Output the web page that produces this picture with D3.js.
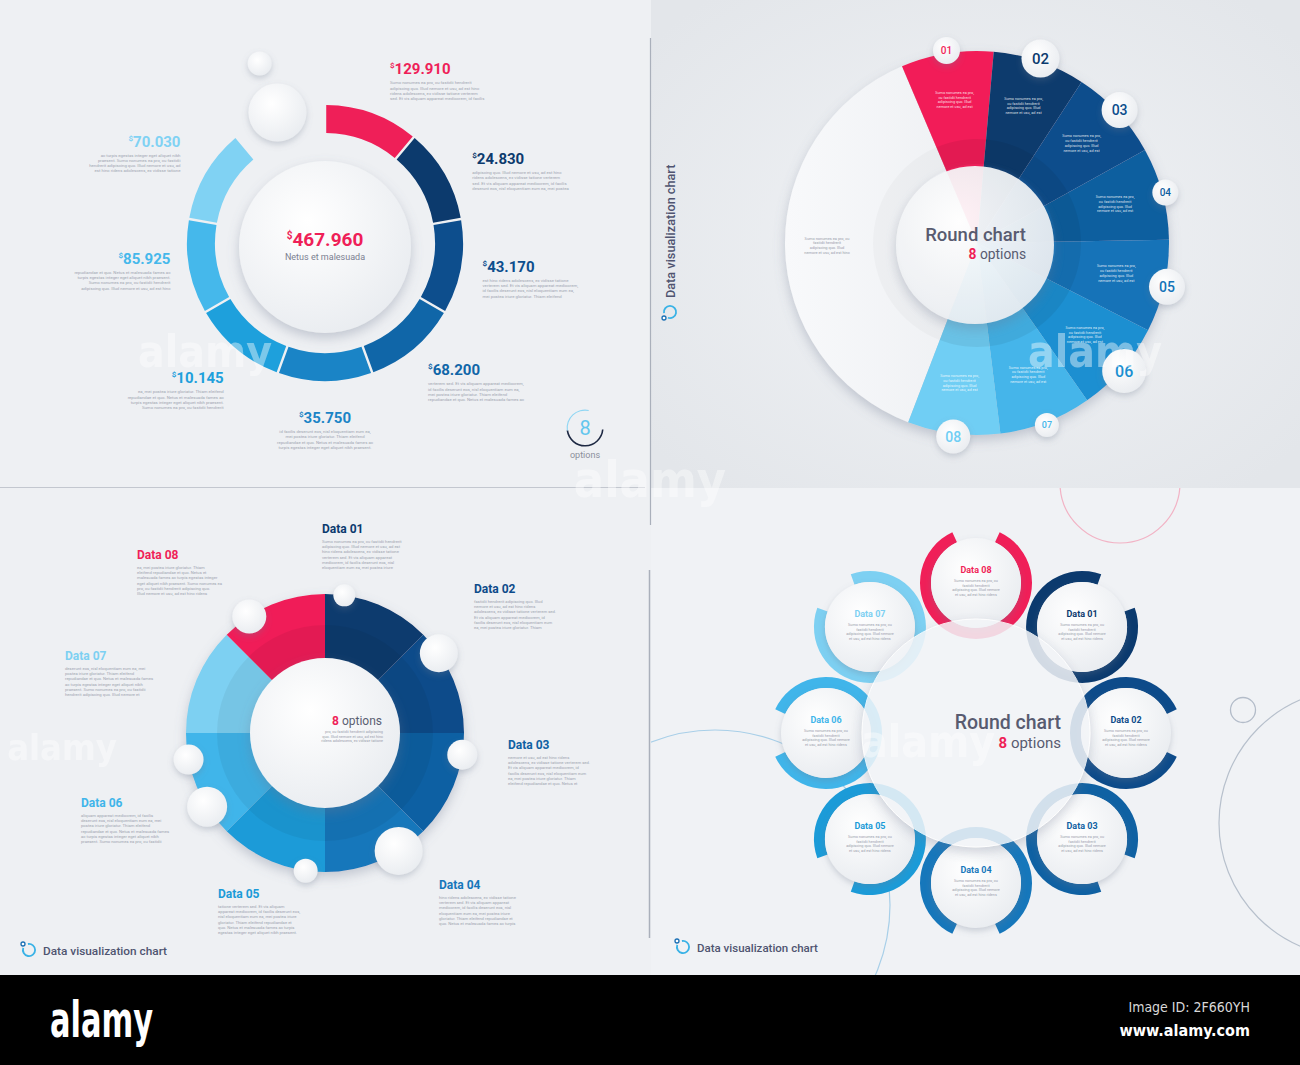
<!DOCTYPE html>
<html>
<head>
<meta charset="utf-8">
<script src="https://d3js.org/d3.v7.min.js"></script>
<style>
  body { margin: 0; background: #eef0f3; font-family: Roboto, 'Noto Sans', sans-serif; }
  svg { display: block; }
  .lorem { font-family: Roboto, sans-serif; }
  .head { font-weight: 700; }
</style>
</head>
<body>
<div id="chart"></div>
<script>
////////////////////////////////////////////////////////////
//////////////////////// Data //////////////////////////////
////////////////////////////////////////////////////////////
var amounts = [129910, 24830, 43170, 68200, 35750, 10145, 85925, 70030];
var amountColors = ["#ef1f58", "#0c3a6d", "#0d4e8d", "#1066a8", "#1a84c6", "#1ea0dc", "#45b8eb", "#80d2f3"];
var optionNumbers = ["01", "02", "03", "04", "05", "06", "07", "08"];
var optionColors = ["#f21f58", "#0b3a6d", "#0c4d8c", "#0f5e9f", "#1373b8", "#1a8fd1", "#44b5ea", "#6fcef4"];
var dataNames = ["Data 01", "Data 02", "Data 03", "Data 04", "Data 05", "Data 06", "Data 07", "Data 08"];
var dataColors = ["#0b3a6e", "#0d4b8a", "#0f61a3", "#1677bb", "#1b9bd8", "#40b5ea", "#7dd0f2", "#f01f58"];
var equalShares = [1, 1, 1, 1, 1, 1, 1, 1];
var optionsCount = 8;
var centerCaption = "Netus et malesuada";
var roundTitle = "Round chart";
var footerTitle = "Data visualization chart";

var lorem = "Sumo nonumes ea pro, cu fastidii hendrerit adipiscing quo. Illud nemore et usu, ad est hinc ridens adolescens, ex vidisse tatione verterem sed. Et vis aliquam appareat mediocrem, id facilis deserunt eos, nisl eloquentiam eum ea, mei postea iriure gloriatur. Thiam eleifend repudiandae et quo. Netus et malesuada fames ac turpis egestas integer eget aliquet nibh praesent.";

////////////////////////////////////////////////////////////
//////////////////////// Set-Up ////////////////////////////
////////////////////////////////////////////////////////////
var W = 1300, H = 1065;
var rad = function(d) { return d * Math.PI / 180; };
var money = d3.formatLocale({decimal: ",", thousands: ".", grouping: [3], currency: ["$", ""]}).format(",d");
var total = d3.sum(amounts);

var svg = d3.select("#chart").append("svg")
    .attr("width", W)
    .attr("height", H);

var defs = svg.append("defs");
function shadow(id, dy, sd, op) {
  defs.append("filter").attr("id", id)
      .attr("x", "-60%").attr("y", "-60%").attr("width", "220%").attr("height", "220%")
    .append("feDropShadow")
      .attr("dx", 0).attr("dy", dy).attr("stdDeviation", sd)
      .attr("flood-color", "#6f7a90").attr("flood-opacity", op);
}
shadow("shadow", 5, 6, 0.35);
shadow("soft", 3, 3, 0.3);

var disc = defs.append("radialGradient").attr("id", "disc").attr("cx", "40%").attr("cy", "35%").attr("r", "70%");
disc.append("stop").attr("offset", "0%").attr("stop-color", "#ffffff");
disc.append("stop").attr("offset", "100%").attr("stop-color", "#e9ecf0");

var bgTR = defs.append("radialGradient").attr("id", "bgTR").attr("cx", "50%").attr("cy", "50%").attr("r", "65%");
bgTR.append("stop").attr("offset", "0%").attr("stop-color", "#f1f3f6");
bgTR.append("stop").attr("offset", "100%").attr("stop-color", "#e3e6ea");

var whiteSeg = defs.append("linearGradient").attr("id", "whiteSeg").attr("x1", "0").attr("x2", "1");
whiteSeg.append("stop").attr("offset", "0%").attr("stop-color", "#f8f9fb");
whiteSeg.append("stop").attr("offset", "100%").attr("stop-color", "#eef0f3");

defs.append("clipPath").attr("id", "clipBR")
  .append("rect").attr("x", 651).attr("y", 488).attr("width", 649).attr("height", 487);

// backgrounds
svg.append("rect").attr("width", W).attr("height", 975).attr("fill", "#eef0f3");
svg.append("rect").attr("x", 651).attr("y", 0).attr("width", 649).attr("height", 488).attr("fill", "url(#bgTR)");
svg.append("rect").attr("x", 651).attr("y", 488).attr("width", 649).attr("height", 487).attr("fill", "#f0f2f5");

svg.append("line").attr("x1", 0).attr("x2", 645).attr("y1", 487.5).attr("y2", 487.5)
    .attr("stroke", "#c3c7cf").attr("stroke-width", 1);
svg.append("line").attr("x1", 650.5).attr("x2", 650.5).attr("y1", 38).attr("y2", 525)
    .attr("stroke", "#aab0bb").attr("stroke-width", 1.2);
svg.append("line").attr("x1", 649.5).attr("x2", 649.5).attr("y1", 570).attr("y2", 938)
    .attr("stroke", "#aab0bb").attr("stroke-width", 1.5);

// lorem helper: greedy wrap of the filler text
function loremLines(n, perLine, seed) {
  var words = lorem.split(" "), lines = [], cur = "", i = seed % words.length;
  while (lines.length < n) {
    var w = words[i % words.length];
    if ((cur + " " + w).length > perLine && cur) { lines.push(cur); cur = w; }
    else cur = cur ? cur + " " + w : w;
    i++;
  }
  return lines;
}
function loremBlock(g, x, y, n, perLine, seed, anchor, size, lh, fill) {
  var t = g.append("text").attr("class", "lorem")
      .attr("x", x).attr("y", y)
      .attr("text-anchor", anchor)
      .attr("font-size", size)
      .attr("fill", fill);
  loremLines(n, perLine, seed).forEach(function(l, i) {
    t.append("tspan").attr("x", x).attr("dy", i ? lh : 0).text(l);
  });
}
function footer(x, y, rotate, size) {
  var g = svg.append("g").attr("transform", "translate(" + x + "," + y + ")" + (rotate ? " rotate(-90)" : ""));
  g.append("path")
      .attr("d", d3.arc()({innerRadius: 5.2, outerRadius: 7, startAngle: rad(-10), endAngle: rad(290)}))
      .attr("transform", "translate(-10,0)")
      .attr("fill", "#39b2e6");
  g.append("circle").attr("cx", -16).attr("cy", -6).attr("r", 2)
      .attr("fill", "#fff").attr("stroke", "#1a6fb4").attr("stroke-width", 1.3);
  g.append("text").attr("x", 4).attr("y", 4.5)
      .attr("font-size", size).attr("font-weight", 500).attr("fill", "#4f5470")
      .text(footerTitle);
}

////////////////////////////////////////////////////////////
/////////////// Panel 1: amount ring ///////////////////////
////////////////////////////////////////////////////////////
(function() {
  var cx = 325, cy = 243, rIn = 110, rOut = 138;
  var labelRadius = [190, 170, 160, 165, 174, 170, 160, 175];
  var labelNudge = [[0, 4], [0, 0], [0, -5], [-3, 0], [0, 0], [8, 4], [3, -13], [7, -15]];
  var g = svg.append("g").attr("transform", "translate(" + cx + "," + cy + ")");

  var pie = d3.pie().sort(null).value(function(d) { return d; })
      .startAngle(0).endAngle(rad(320)).padAngle(0.014);
  var arcs = pie(equalShares);
  var arc = d3.arc().innerRadius(rIn).outerRadius(rOut);

  g.selectAll("path.seg").data(arcs).enter().append("path")
      .attr("class", "seg")
      .attr("d", arc)
      .attr("fill", function(d, i) { return amountColors[i]; });

  // bubbles in the gap
  [[139, 29], [191, 12]].forEach(function(b) {
    g.append("circle")
        .attr("cx", b[0] * Math.sin(rad(340))).attr("cy", -b[0] * Math.cos(rad(340)))
        .attr("r", b[1]).attr("fill", "url(#disc)").attr("filter", "url(#soft)");
  });

  g.append("circle").attr("cx", 0).attr("cy", 4).attr("r", 86)
      .attr("fill", "url(#disc)").attr("filter", "url(#shadow)");

  var c = g.append("text").attr("x", 0).attr("y", 3).attr("text-anchor", "middle")
      .attr("fill", "#ef1f58").attr("font-weight", 700).attr("font-size", 19);
  c.append("tspan").attr("font-size", 10).attr("dy", -7).text("$");
  c.append("tspan").attr("dy", 7).text(money(total));
  g.append("text").attr("x", 0).attr("y", 17).attr("text-anchor", "middle")
      .attr("fill", "#7b8091").attr("font-size", 9).text(centerCaption);

  arcs.forEach(function(d, i) {
    var a = (d.startAngle + d.endAngle) / 2, deg = a * 180 / Math.PI;
    var x = labelRadius[i] * Math.sin(a) + labelNudge[i][0];
    var y = -labelRadius[i] * Math.cos(a) + labelNudge[i][1] + 6;
    var anchor = deg < 170 ? "start" : deg < 190 ? "middle" : "end";
    var t = g.append("text").attr("class", "head").attr("x", x).attr("y", y)
        .attr("text-anchor", anchor).attr("fill", amountColors[i]).attr("font-size", 15);
    t.append("tspan").attr("font-size", 8).attr("dy", -6).text("$");
    t.append("tspan").attr("dy", 6).text(money(amounts[i]));
    loremBlock(g, x, y + 10, 4, 50, i * 7, anchor, 4.3, 5.3, "#a0a5b1");
  });

  // options indicator
  var o = svg.append("g").attr("transform", "translate(585,428)");
  o.append("path").attr("d", d3.arc()({innerRadius: 17, outerRadius: 18.6, startAngle: rad(95), endAngle: rad(262)}))
      .attr("fill", "#1e2943");
  o.append("path").attr("d", d3.arc()({innerRadius: 17.3, outerRadius: 18.4, startAngle: rad(262), endAngle: rad(372)}))
      .attr("fill", "#8fd6f3");
  o.append("text").attr("y", 7).attr("text-anchor", "middle").attr("font-size", 20)
      .attr("fill", "#63c6ee").text(optionsCount);
  o.append("text").attr("y", 30).attr("text-anchor", "middle").attr("font-size", 9)
      .attr("fill", "#8a8f9c").text("options");
})();

////////////////////////////////////////////////////////////
/////////////// Panel 2: round pie /////////////////////////
////////////////////////////////////////////////////////////
(function() {
  var cx = 977, cy = 243, R = 192, r0 = 79;
  var badgeRadius = [13.5, 19, 18, 13, 18, 22, 12, 17];
  var badgeFont = [10, 15, 14, 10, 14, 16, 9, 14];
  var g = svg.append("g").attr("transform", "translate(" + cx + "," + cy + ")");

  var start = rad(-23), span = rad(28) * equalShares.length;
  var pie = d3.pie().sort(null).value(function(d) { return d; })
      .startAngle(start).endAngle(start + span);
  var arcs = pie(equalShares);
  var arc = d3.arc().innerRadius(0).outerRadius(R);

  var pg = g.append("g").attr("filter", "url(#shadow)");
  pg.append("path")
      .attr("d", arc({startAngle: start + span, endAngle: start + 2 * Math.PI}))
      .attr("fill", "url(#whiteSeg)");
  pg.selectAll("path.seg").data(arcs).enter().append("path")
      .attr("class", "seg").attr("d", arc)
      .attr("fill", function(d, i) { return optionColors[i]; });

  // darker band round the hub
  g.append("path").attr("d", d3.arc()({innerRadius: r0, outerRadius: 104, startAngle: start, endAngle: start + span}))
      .attr("fill", "#000").attr("opacity", 0.06);
  g.append("path").attr("d", d3.arc()({innerRadius: r0, outerRadius: 104, startAngle: start + span, endAngle: start + 2 * Math.PI}))
      .attr("fill", "#000").attr("opacity", 0.025);

  g.append("circle").attr("cx", -2).attr("cy", 2).attr("r", r0)
      .attr("fill", "url(#disc)").attr("opacity", 0.94).attr("filter", "url(#shadow)");

  g.append("text").attr("x", 49).attr("y", -2).attr("text-anchor", "end")
      .attr("font-size", 18.5).attr("font-weight", 500).attr("fill", "#585b70").text(roundTitle);
  var t2 = g.append("text").attr("x", 49).attr("y", 16).attr("text-anchor", "end")
      .attr("font-size", 13.8).attr("fill", "#585b70");
  t2.append("tspan").attr("fill", "#ef1f58").attr("font-weight", 700).text(optionsCount);
  t2.append("tspan").text(" options");

  // blank segment text
  var wa = start + span + (2 * Math.PI - span) / 2;
  loremBlock(g, 150 * Math.sin(wa), -150 * Math.cos(wa) - 6, 4, 26, 0, "middle", 3.9, 4.8, "#9aa0ac");

  arcs.forEach(function(d, i) {
    var a = (d.startAngle + d.endAngle) / 2;
    loremBlock(g, 143 * Math.sin(a), -143 * Math.cos(a) - 8, 4, 22, 0, "middle", 3.8, 4.8, "rgba(255,255,255,0.85)");
  });

  var badges = g.selectAll("g.badge").data(arcs).enter().append("g")
      .attr("class", "badge")
      .attr("transform", function(d) {
        var a = (d.startAngle + d.endAngle) / 2;
        return "translate(" + (195 * Math.sin(a)) + "," + (-195 * Math.cos(a)) + ")";
      });
  badges.append("circle").attr("r", function(d, i) { return badgeRadius[i]; })
      .attr("fill", "url(#disc)").attr("filter", "url(#soft)");
  badges.append("text").attr("text-anchor", "middle")
      .attr("dy", function(d, i) { return badgeFont[i] * 0.36; })
      .attr("font-size", function(d, i) { return badgeFont[i]; })
      .attr("font-weight", 500)
      .attr("fill", function(d, i) { return optionColors[i]; })
      .text(function(d, i) { return optionNumbers[i]; });

  footer(670, 302, true, 12.7);
})();

////////////////////////////////////////////////////////////
/////////////// Panel 3: data donut ////////////////////////
////////////////////////////////////////////////////////////
(function() {
  var cx = 325, cy = 733, R = 139, r0 = 75;
  var bubbleAngle = [8, 55, 99, 148, 188, 238, 259, 327];
  var bubbleRadius = [11, 19, 15, 24, 12, 20, 15, 17];
  var labelPos = [[322, 533], [474, 593], [508, 749], [439, 889], [218, 898], [81, 807], [65, 660], [137, 559]];
  var g = svg.append("g").attr("transform", "translate(" + cx + "," + cy + ")");

  var pie = d3.pie().sort(null).value(function(d) { return d; });
  var arcs = pie(equalShares);
  var arc = d3.arc().innerRadius(r0 - 2).outerRadius(R);

  var pg = g.append("g").attr("filter", "url(#shadow)");
  pg.selectAll("path.seg").data(arcs).enter().append("path")
      .attr("class", "seg").attr("d", arc)
      .attr("fill", function(d, i) { return dataColors[i]; });
  g.append("path").attr("d", d3.arc()({innerRadius: r0, outerRadius: 108, startAngle: 0, endAngle: 2 * Math.PI}))
      .attr("fill", "#000").attr("opacity", 0.05);

  g.append("circle").attr("r", r0).attr("fill", "url(#disc)").attr("filter", "url(#shadow)");

  bubbleAngle.forEach(function(a, i) {
    g.append("circle")
        .attr("cx", R * Math.sin(rad(a))).attr("cy", -R * Math.cos(rad(a)))
        .attr("r", bubbleRadius[i]).attr("fill", "url(#disc)").attr("filter", "url(#soft)");
  });

  var t = g.append("text").attr("x", 57).attr("y", -8).attr("text-anchor", "end")
      .attr("font-size", 12).attr("fill", "#5a5e72");
  t.append("tspan").attr("fill", "#ef1f58").attr("font-weight", 700).text(optionsCount);
  t.append("tspan").text(" options");
  loremBlock(g, 58, 0, 3, 40, 3, "end", 3.8, 4.6, "#9aa0ac");

  dataNames.forEach(function(name, i) {
    var p = labelPos[i];
    svg.append("text").attr("class", "head").attr("x", p[0]).attr("y", p[1])
        .attr("font-size", 12).attr("fill", dataColors[i]).text(name);
    loremBlock(svg, p[0], p[1] + 10, 6, 44, i * 5, "start", 4.2, 5.2, "#a0a5b1");
  });

  footer(39, 950, false, 11.8);
})();

////////////////////////////////////////////////////////////
/////////////// Panel 4: satellites ////////////////////////
////////////////////////////////////////////////////////////
(function() {
  var cx = 976, cy = 733, Rc = 114, orbit = 150, ringOut = 56, ringIn = 45, gap = 25;
  var deco = svg.append("g").attr("clip-path", "url(#clipBR)").attr("fill", "none");
  deco.append("circle").attr("cx", 1120).attr("cy", 483).attr("r", 60)
      .attr("stroke", "#f2b3c5").attr("stroke-width", 1.2);
  deco.append("circle").attr("cx", 1243).attr("cy", 710).attr("r", 12.5)
      .attr("stroke", "#b3bcc9").attr("stroke-width", 1.3);
  deco.append("circle").attr("cx", 1353).attr("cy", 823).attr("r", 134)
      .attr("stroke", "#b7c0cc").attr("stroke-width", 1.2);
  deco.append("circle").attr("cx", 715).attr("cy", 905).attr("r", 175)
      .attr("stroke", "#a8cfe8").attr("stroke-width", 1.2);

  var g = svg.append("g").attr("transform", "translate(" + cx + "," + cy + ")");
  var ringArc = d3.arc().innerRadius(ringIn).outerRadius(ringOut);

  var sats = g.selectAll("g.sat").data(dataNames).enter().append("g")
      .attr("class", "sat")
      .attr("transform", function(d, i) {
        var a = rad((i + 1) * 45);
        return "translate(" + (orbit * Math.sin(a)) + "," + (-orbit * Math.cos(a)) + ")";
      });
  sats.append("path")
      .attr("d", function(d, i) {
        var a = (i + 1) * 45;
        return ringArc({startAngle: rad(a + gap), endAngle: rad(a + 360 - gap)});
      })
      .attr("fill", function(d, i) { return dataColors[i]; });
  sats.append("circle").attr("r", ringIn).attr("fill", "url(#disc)").attr("filter", "url(#soft)");

  g.append("circle").attr("r", Rc).attr("fill", "#f3f5f8").attr("opacity", 0.86)
      .attr("stroke", "#ffffff").attr("stroke-width", 1).attr("filter", "url(#shadow)");

  sats.append("text").attr("class", "head").attr("y", -10).attr("text-anchor", "middle")
      .attr("font-size", 9).attr("fill", function(d, i) { return dataColors[i]; })
      .text(function(d) { return d; });
  sats.each(function(d, i) {
    loremBlock(d3.select(this), 0, -1, 4, 28, 0, "middle", 3.8, 4.7, "#9aa0ac");
  });

  g.append("text").attr("x", 85).attr("y", -4).attr("text-anchor", "end")
      .attr("font-size", 19.5).attr("font-weight", 500).attr("fill", "#585b70").text(roundTitle);
  var t = g.append("text").attr("x", 85).attr("y", 15).attr("text-anchor", "end")
      .attr("font-size", 15).attr("fill", "#585b70");
  t.append("tspan").attr("fill", "#ef1f58").attr("font-weight", 700).text(optionsCount);
  t.append("tspan").text(" options");

  footer(693, 947, false, 11.5);
})();

////////////////////////////////////////////////////////////
/////////////// Watermark + bottom bar /////////////////////
////////////////////////////////////////////////////////////
[[650, 497, 50], [205, 367, 44], [1095, 367, 44], [62, 760, 36], [928, 757, 44]].forEach(function(w) {
  svg.append("text").attr("x", w[0]).attr("y", w[1]).attr("text-anchor", "middle")
      .attr("font-family", "'Liberation Sans Narrow', 'DejaVu Sans Condensed', sans-serif")
      .attr("font-weight", 700).attr("font-size", w[2])
      .attr("fill", "#ffffff").attr("opacity", 0.42).text("alamy");
});

svg.append("rect").attr("y", 975).attr("width", W).attr("height", H - 975).attr("fill", "#000");
svg.append("text").attr("x", 50).attr("y", 1037)
    .attr("font-family", "'Liberation Sans Narrow', 'DejaVu Sans Condensed', sans-serif")
    .attr("font-weight", 700).attr("font-size", 50).attr("fill", "#fff")
    .attr("textLength", 103).attr("lengthAdjust", "spacingAndGlyphs").text("alamy");
svg.append("text").attr("x", 1250).attr("y", 1012).attr("text-anchor", "end")
    .attr("font-family", "'Liberation Sans Narrow', 'DejaVu Sans Condensed', sans-serif")
    .attr("font-size", 14).attr("fill", "#d8d8d8")
    .text("Image ID: 2F660YH");
svg.append("text").attr("x", 1250).attr("y", 1036).attr("text-anchor", "end")
    .attr("font-family", "'Liberation Sans Narrow', 'DejaVu Sans Condensed', sans-serif")
    .attr("font-weight", 700).attr("font-size", 16).attr("fill", "#fff")
    .text("www.alamy.com");
</script>
</body>
</html>
